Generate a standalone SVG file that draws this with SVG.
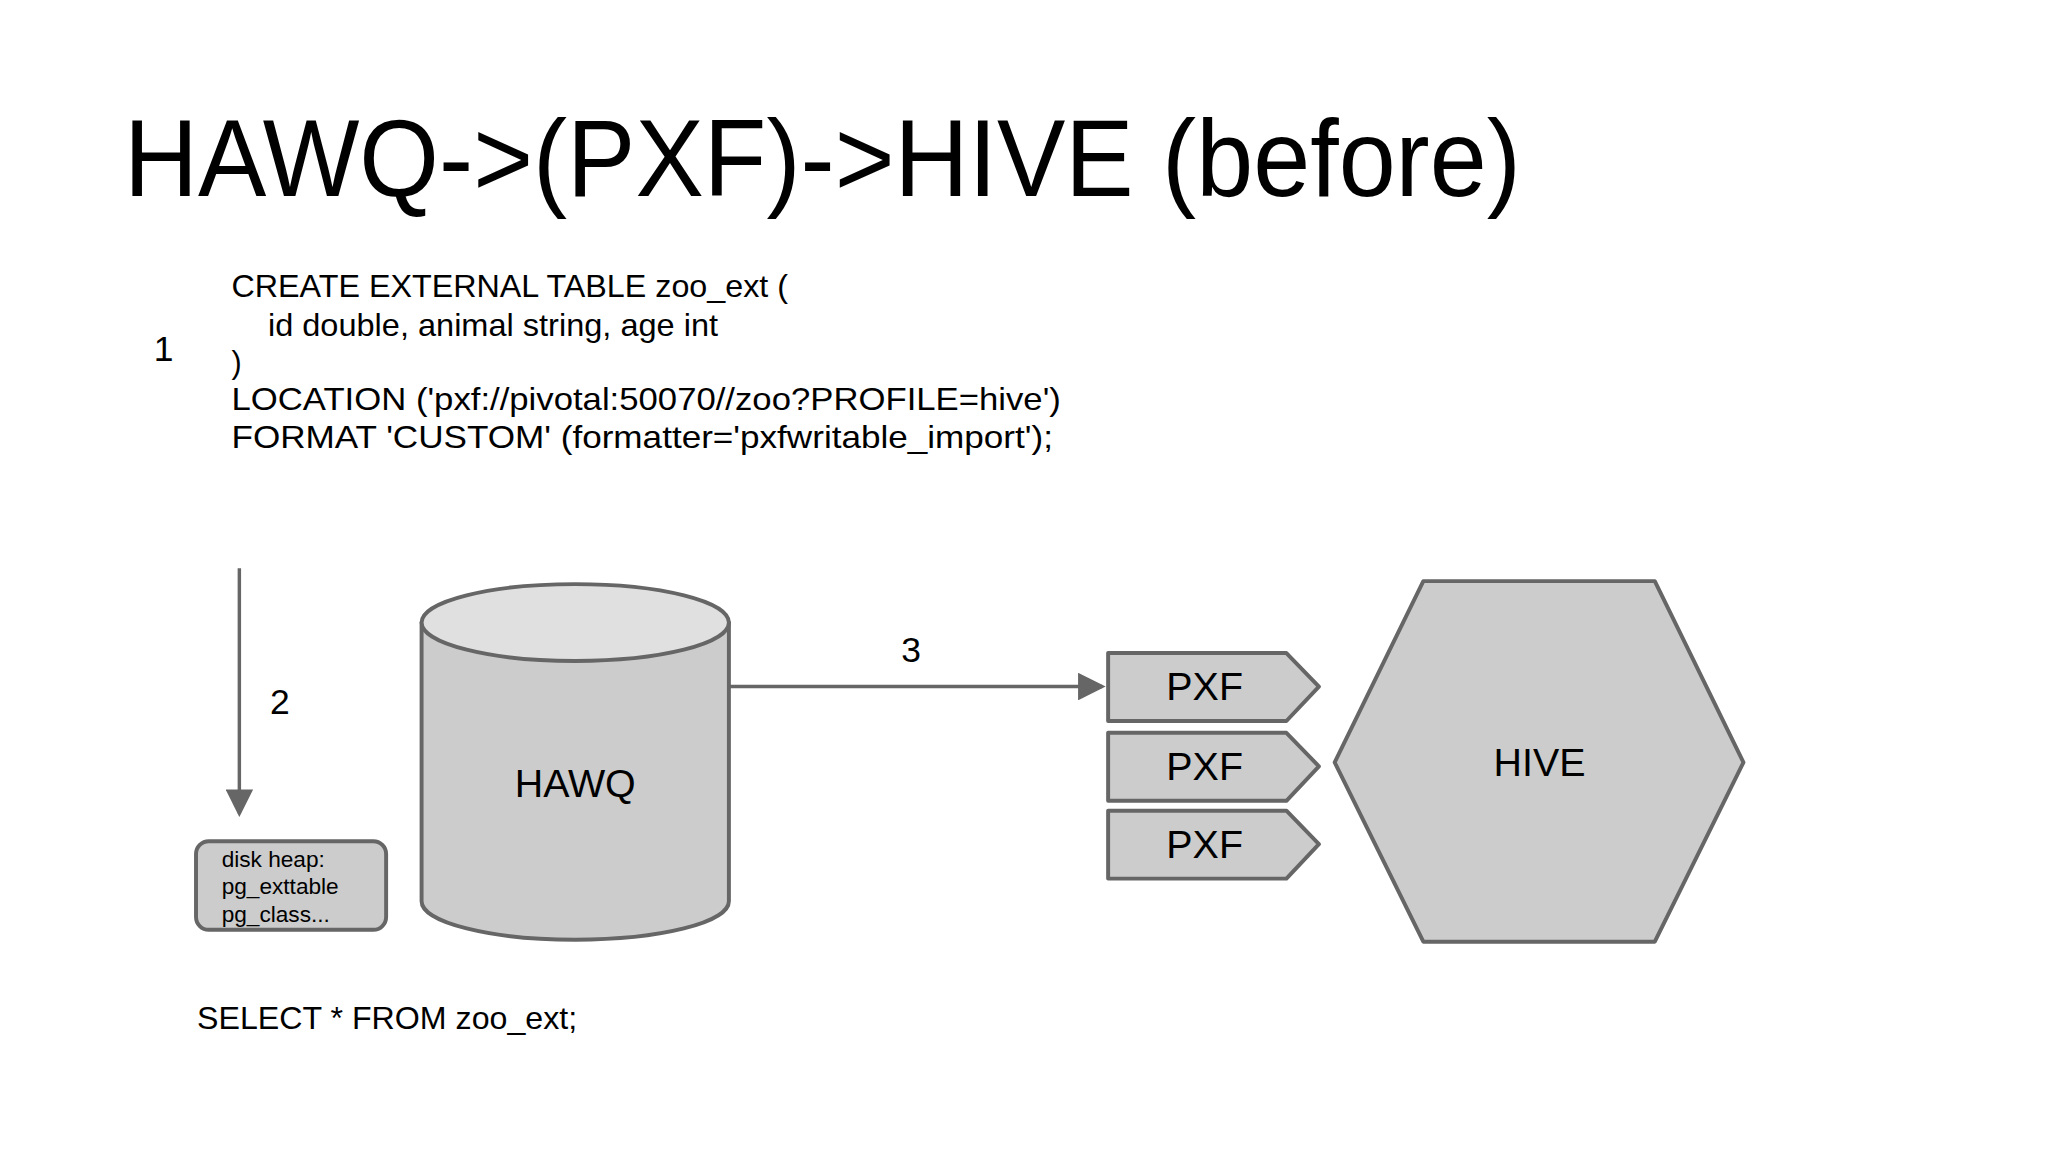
<svg xmlns="http://www.w3.org/2000/svg" width="2048" height="1152" viewBox="0 0 2048 1152">
<style>
.s{fill:#cccccc;stroke:#666666;stroke-width:4;stroke-linejoin:round}
.t{font-family:"Liberation Sans",Arial,sans-serif;fill:#000}
.c{font-family:"Liberation Sans",Arial,sans-serif;font-size:31px;fill:#000}
.l{font-family:"Liberation Sans",Arial,sans-serif;font-size:40px;fill:#000;text-anchor:middle}
</style>
<defs>
<marker id="ah" markerWidth="8" markerHeight="8" refX="7" refY="4" orient="auto" markerUnits="strokeWidth">
<path d="M0,0 L8,4 L0,8 Z" fill="#666666"/>
</marker>
</defs>
<rect width="2048" height="1152" fill="#fff"/>
<g transform="scale(0.985)">
<text class="t" x="126" y="199" font-size="112" textLength="1418" lengthAdjust="spacingAndGlyphs">HAWQ-&gt;(PXF)-&gt;HIVE (before)</text>
<text class="t" x="156" y="366" font-size="36">1</text>
<g id="code">
<text class="c" x="235" y="302" textLength="565" lengthAdjust="spacingAndGlyphs">CREATE EXTERNAL TABLE zoo_ext (</text>
<text class="c" x="272" y="341" textLength="457" lengthAdjust="spacingAndGlyphs">id double, animal string, age int</text>
<text class="c" x="235" y="379">)</text>
<text class="c" x="235" y="416" textLength="842" lengthAdjust="spacingAndGlyphs">LOCATION ('pxf://pivotal:50070//zoo?PROFILE=hive')</text>
<text class="c" x="235" y="455" textLength="834" lengthAdjust="spacingAndGlyphs">FORMAT 'CUSTOM' (formatter='pxfwritable_import');</text>
</g>
<g id="connectors">
<line x1="243" y1="577" x2="243" y2="826" stroke="#666666" stroke-width="3.5" marker-end="url(#ah)"/>
<line x1="740" y1="697" x2="1119" y2="697" stroke="#666666" stroke-width="3.5" marker-end="url(#ah)"/>
<text class="t" x="274" y="725" font-size="36">2</text>
<text class="t" x="915" y="672" font-size="36">3</text>
</g>
<g id="disk">
<rect class="s" x="199" y="854" width="193" height="90" rx="13"/>
<text class="t" x="225" y="880" font-size="23">disk heap:</text>
<text class="t" x="225" y="908" font-size="23">pg_exttable</text>
<text class="t" x="225" y="936" font-size="23">pg_class...</text>
</g>
<g id="hawq">
<path class="s" d="M428,632 L428,915 A156,39 0 0 0 740,915 L740,632 Z"/>
<ellipse cx="584" cy="632" rx="156" ry="39" fill="#e0e0e0" stroke="#666666" stroke-width="4"/>
<text class="l" x="584" y="809">HAWQ</text>
</g>
<g id="pxf1">
<path class="s" d="M1125,663 L1306,663 L1339,697 L1306,732 L1125,732 Z"/>
<text class="l" x="1223" y="711">PXF</text>
</g>
<g id="pxf2">
<path class="s" d="M1125,744 L1306,744 L1339,778 L1306,813 L1125,813 Z"/>
<text class="l" x="1223" y="792">PXF</text>
</g>
<g id="pxf3">
<path class="s" d="M1125,823 L1306,823 L1339,857 L1306,892 L1125,892 Z"/>
<text class="l" x="1223" y="871">PXF</text>
</g>
<g id="hive">
<path class="s" d="M1445,590 L1680,590 L1770,774 L1680,956 L1445,956 L1355,774 Z"/>
<text class="l" x="1563" y="788">HIVE</text>
</g>
<text class="c" x="200" y="1045" textLength="386" lengthAdjust="spacingAndGlyphs">SELECT * FROM zoo_ext;</text>
</g>
</svg>
